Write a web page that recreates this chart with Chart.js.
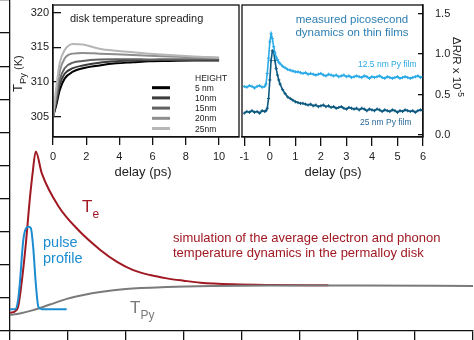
<!DOCTYPE html>
<html>
<head>
<meta charset="utf-8">
<script src="https://cdn.jsdelivr.net/npm/chart.js@4.4.1/dist/chart.umd.min.js"></script>
<style>
body{margin:0;background:#fff;}
#wrap{position:relative;width:474px;height:340px;overflow:hidden;}
#wrap canvas{position:absolute;left:0;top:0;}
</style>
</head>
<body>
<div id="wrap">
<canvas id="simChart" width="474" height="340"></canvas>
<canvas id="diskChart" width="474" height="340"></canvas>
<canvas id="filmChart" width="474" height="340"></canvas>
</div>
<script>
const FONT = "'Liberation Sans', Arial, sans-serif";

// big simulation (arbitrary units, no labels)
const teDelay = [0, 0.09, 0.14, 0.22, 0.28, 0.33, 0.39, 0.445, 0.55, 0.84, 1.18, 1.56, 1.85, 2.13, 2.42, 2.71, 3.0, 3.29, 3.86, 4.5, 5.5];
const teValue = [0.55, 0.6, 0.73, 1.74, 2.75, 3.76, 4.76, 5.42, 4.76, 3.76, 3.05, 2.45, 2.09, 1.84, 1.69, 1.59, 1.52, 1.46, 1.41, 1.39, 1.38];
const tpyDelay = [0, 0.17, 0.4, 0.69, 0.98, 1.27, 1.56, 2.0, 2.71, 3.5, 4.5, 6.0, 8.0];
const tpyValue = [0.48, 0.53, 0.63, 0.8, 0.97, 1.09, 1.18, 1.27, 1.33, 1.36, 1.375, 1.375, 1.36];
const pulseDelay = [0, 0.09, 0.14, 0.17, 0.23, 0.28, 0.32, 0.36, 0.4, 0.445, 0.49, 0.55, 0.98];
const pulseValue = [0.66, 0.66, 0.94, 1.45, 2.75, 3.11, 3.15, 3.11, 2.55, 1.45, 0.73, 0.66, 0.66];

// inset: disk temperature spreading
const diskDelay = [0, 0.2, 0.4, 0.7, 1.2, 1.8, 2.8, 3.8, 4.8, 5.8, 7, 8.5, 10];
const diskHeights = ["5 nm", "10nm", "15nm", "20nm", "25nm"];
const disk5 = [305, 306.7, 308.8, 310.5, 311.5, 312.0, 312.4, 312.7, 312.85, 313.0, 313.05, 313.1, 313.1];
const disk10 = [305, 307.2, 309.6, 311.2, 312.0, 312.4, 312.8, 313.0, 313.1, 313.15, 313.2, 313.2, 313.2];
const disk15 = [305, 307.6, 310.3, 312.0, 312.8, 313.05, 313.25, 313.3, 313.3, 313.25, 313.3, 313.3, 313.3];
const disk20 = [305, 308.4, 311.5, 313.4, 314.1, 314.2, 314.1, 314.0, 313.9, 313.8, 313.7, 313.6, 313.5];
const disk25 = [305, 309.3, 312.7, 314.6, 315.5, 315.4, 314.8, 314.5, 314.3, 314.1, 313.9, 313.7, 313.5];
const diskColors = ["#000000", "#3c3c3c", "#626262", "#8e8e8e", "#b6b6b6"];

// inset: measured films
const filmDelay = [-1.0, -0.9, -0.8, -0.7, -0.6, -0.5, -0.4, -0.3, -0.2,
  -0.15, -0.1, -0.05, 0, 0.05, 0.1, 0.15, 0.2, 0.25, 0.3, 0.35, 0.4,
  0.5, 0.6, 0.7, 0.8, 0.9, 1.0, 1.1, 1.2, 1.3, 1.4,
  1.5, 1.6, 1.7, 1.8, 1.9, 2.0, 2.1, 2.2, 2.3, 2.4,
  2.5, 2.6, 2.7, 2.8, 2.9, 3.0, 3.1, 3.2, 3.3, 3.4,
  3.5, 3.6, 3.7, 3.8, 3.9, 4.0, 4.1, 4.2, 4.3, 4.4,
  4.5, 4.6, 4.7, 4.8, 4.9, 5.0, 5.1, 5.2, 5.3, 5.4,
  5.5, 5.6, 5.7, 5.8, 5.9, 6.0];
const film125 = [0.60, 0.59, 0.61, 0.60, 0.58, 0.60, 0.61, 0.59, 0.60,
  0.63, 0.76, 0.95, 1.15, 1.25, 1.19, 1.09, 1.01, 0.96, 0.93, 0.90, 0.88,
  0.85, 0.83, 0.81, 0.80, 0.79, 0.78, 0.78, 0.77, 0.76, 0.77,
  0.75, 0.76, 0.75, 0.74, 0.75, 0.76, 0.74, 0.73, 0.75, 0.74,
  0.73, 0.74, 0.72, 0.73, 0.74, 0.72, 0.73, 0.71, 0.72, 0.73,
  0.72, 0.71, 0.73, 0.72, 0.70, 0.72, 0.71, 0.72, 0.73, 0.71,
  0.70, 0.72, 0.71, 0.70, 0.71, 0.72, 0.70, 0.71, 0.72, 0.71,
  0.70, 0.71, 0.72, 0.73, 0.71, 0.72];
const film25 = [0.27, 0.29, 0.28, 0.30, 0.28, 0.29, 0.27, 0.30, 0.29,
  0.30, 0.33, 0.45, 0.68, 0.92, 1.04, 1.03, 0.92, 0.82, 0.74, 0.68, 0.63,
  0.56, 0.51, 0.47, 0.45, 0.43, 0.41, 0.40, 0.39, 0.39, 0.38,
  0.37, 0.38, 0.36, 0.37, 0.35, 0.36, 0.37, 0.35, 0.36, 0.34,
  0.35, 0.33, 0.34, 0.35, 0.33, 0.32, 0.34, 0.33, 0.32, 0.33,
  0.31, 0.33, 0.32, 0.30, 0.32, 0.31, 0.30, 0.32, 0.31, 0.29,
  0.31, 0.30, 0.29, 0.31, 0.30, 0.28, 0.30, 0.29, 0.31, 0.30,
  0.29, 0.30, 0.28, 0.30, 0.31, 0.30];

const RED = "#a01822";
const BLUE = "#1b8ccf";
const GRAY = "#7a7a7a";
const LIGHTBLUE = "#2aaae6";
const DARKBLUE = "#0d5a80";

document.addEventListener("DOMContentLoaded", function () {

createSimChart();
createDiskChart();
createFilmChart();

});


function xy(xs, ys){
return xs.map(function (x, i) { return {x: x, y: ys[i]}; });
}

// text pieces: [text, size, dy]
function drawRuns(ctx, x, y, runs, color, angle){
ctx.save();
ctx.translate(x, y);
if (angle) ctx.rotate(angle);
ctx.fillStyle = color;
ctx.textBaseline = "alphabetic";
ctx.textAlign = "left";
let cx = 0;
runs.forEach(function (r) {
ctx.font = r[1] + "px " + FONT;
ctx.fillText(r[0], cx, r[2] || 0);
cx += ctx.measureText(r[0]).width;
});
ctx.restore();
}

function drawCentered(ctx, text, x, y, size, color){
ctx.save();
ctx.font = size + "px " + FONT;
ctx.fillStyle = color;
ctx.textAlign = "center";
ctx.textBaseline = "middle";
ctx.fillText(text, x, y);
ctx.restore();
}

const framePlugin = {
id: "frame",
afterDraw(chart){
const a = chart.chartArea;
const c = chart.ctx;
c.save();
c.strokeStyle = "#111";
c.lineWidth = 1.3;
c.strokeRect(a.left, a.top, a.right - a.left, a.bottom - a.top);
c.restore();
}
};

function axisGrid(len){
return {drawOnChartArea: false, drawTicks: true, tickLength: len, color: "#111", lineWidth: 1.3};
}

// fixed box sizes so the plot areas land where the original has them
function fixHeight(h){
return function (s) { s.height = h; s.paddingLeft = 0; s.paddingRight = 0; };
}
function fixWidth(w){
return function (s) { s.width = w; s.paddingTop = 0; s.paddingBottom = 0; };
}



function createSimChart(){

new Chart(document.getElementById("simChart"),{

type:"line",

data:{
datasets:[
{label:"pulse", data: xy(pulseDelay, pulseValue), borderColor: BLUE},
{label:"T_Py", data: xy(tpyDelay, tpyValue), borderColor: GRAY},
{label:"T_e", data: xy(teDelay, teValue), borderColor: RED}
]
},

options:{
responsive:false,
animation:false,
layout:{padding:{left:0, top:0, right:1, bottom:0}},
elements:{point:{radius:0}, line:{borderWidth:2, cubicInterpolationMode:"monotone"}},
plugins:{legend:{display:false}, tooltip:{enabled:false}},
scales:{
x:{type:"linear", min:0, max:8, ticks:{display:false, stepSize:1}, grid:axisGrid(9), border:{color:"#111", width:1.3},
afterFit: fixHeight(9)},
y:{type:"linear", min:0, max:10, ticks:{display:false, stepSize:1}, grid:axisGrid(10), border:{color:"#111", width:1.3},
afterFit: fixWidth(10)}
}
},

plugins:[{
id:"simText",
afterDraw(chart){
const c = chart.ctx;
drawRuns(c, 82, 212, [["T", 17], ["e", 12, 6]], RED);
drawRuns(c, 43, 247, [["pulse", 14.5]], BLUE);
drawRuns(c, 43, 263, [["profile", 14.5]], BLUE);
drawRuns(c, 173, 241.5, [["simulation of the average electron and phonon", 13]], RED);
drawRuns(c, 173, 257, [["temperature dynamics in the permalloy disk", 13]], RED);
drawRuns(c, 130, 313, [["T", 17], ["Py", 12, 6]], GRAY);
}
}]
});

}



function createDiskChart(){

const series = [disk5, disk10, disk15, disk20, disk25];

new Chart(document.getElementById("diskChart"),{

type:"line",

data:{
datasets: series.map(function (vals, i) {
return {label: diskHeights[i], data: xy(diskDelay, vals), borderColor: diskColors[i]};
}).reverse()
},

options:{
responsive:false,
animation:false,
layout:{padding:{left:0, top:5, right:235, bottom:0}},
elements:{point:{radius:0}, line:{borderWidth:2, cubicInterpolationMode:"monotone"}},
plugins:{legend:{display:false}, tooltip:{enabled:false}},
scales:{
x:{type:"linear", min:0, max:11.2,
ticks:{stepSize:2, includeBounds:false, padding:5, color:"#222", font:{family:FONT, size:11}},
grid:axisGrid(8), border:{color:"#111", width:1.3},
afterFit: fixHeight(203)},
y:{type:"linear", min:302.1, max:321.1,
ticks:{stepSize:5, includeBounds:false, padding:12, color:"#222", font:{family:FONT, size:11}},
grid:axisGrid(-8), border:{color:"#111", width:1.3},
afterFit: fixWidth(53)}
}
},

plugins:[framePlugin, {
id:"diskText",
afterDraw(chart){
const c = chart.ctx;
drawRuns(c, 70, 22, [["disk temperature spreading", 11]], "#222");
drawRuns(c, 195, 81, [["HEIGHT", 8.5]], "#222");
const rows = [87.7, 97.9, 108.1, 118.3, 128.5];
rows.forEach(function (y, i) {
c.save();
c.strokeStyle = diskColors[i];
c.lineWidth = 3;
c.beginPath();
c.moveTo(152, y);
c.lineTo(170, y);
c.stroke();
c.restore();
drawRuns(c, 195, y + 3, [[diskHeights[i], 8.5]], "#222");
});
drawCentered(c, "delay (ps)", 143, 172, 13, "#222");
drawRuns(c, 22, 92, [["T", 13], ["Py", 9.5, 4], [" (K)", 11]], "#222", -Math.PI / 2);
}
}]
});

}



function createFilmChart(){

new Chart(document.getElementById("filmChart"),{

type:"line",

data:{
datasets:[
{label:"12.5 nm Py film", data: xy(filmDelay, film125), borderColor: LIGHTBLUE, pointBorderColor: LIGHTBLUE},
{label:"25 nm Py film", data: xy(filmDelay, film25), borderColor: DARKBLUE, pointBorderColor: DARKBLUE}
]
},

options:{
responsive:false,
animation:false,
layout:{padding:{left:242, top:5, right:0, bottom:0}},
elements:{point:{radius:1.6, pointStyle:"cross", borderWidth:1}, line:{borderWidth:1.6, tension:0}},
plugins:{legend:{display:false}, tooltip:{enabled:false}},
scales:{
x:{type:"linear", min:-1.09, max:6,
ticks:{stepSize:1, includeBounds:false, padding:4, color:"#222", font:{family:FONT, size:11}},
grid:axisGrid(9), border:{color:"#111", width:1.3},
afterFit: fixHeight(203)},
y:{type:"linear", position:"right", min:-0.025, max:1.606,
ticks:{stepSize:0.5, includeBounds:false, padding:17, color:"#222", font:{family:FONT, size:11},
callback: function (v) { return v.toFixed(1); }},
grid:axisGrid(-5), border:{color:"#111", width:1.3},
afterFit: fixWidth(51)}
}
},

plugins:[framePlugin, {
id:"filmText",
afterDraw(chart){
const c = chart.ctx;
drawCentered(c, "measured picosecond", 352, 20, 11.5, "#2e7fb3");
drawCentered(c, "dynamics on thin films", 352, 32.5, 11.5, "#2e7fb3");
drawRuns(c, 358, 66.5, [["12.5 nm Py film", 8.5]], LIGHTBLUE);
drawRuns(c, 360, 124.5, [["25 nm Py film", 8.5]], "#2b6b98");
drawCentered(c, "delay (ps)", 333, 172, 13, "#222");
drawRuns(c, 453, 37, [["\u0394R/R x 10", 11.5], ["-5", 8.5, -5]], "#222", Math.PI / 2);
}
}]
});

}
</script>
</body>
</html>
